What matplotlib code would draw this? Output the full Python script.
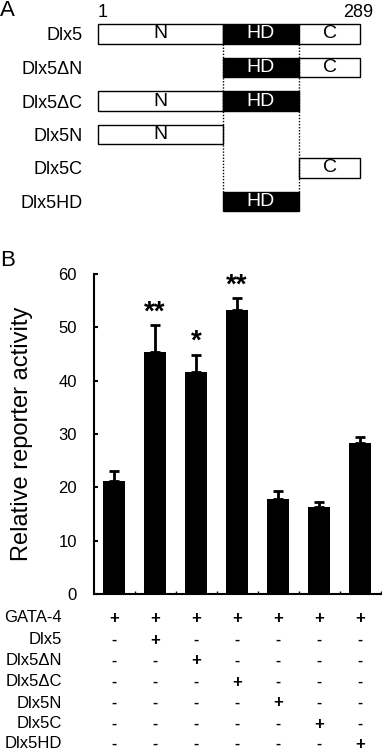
import matplotlib
matplotlib.use("Agg")
import matplotlib.pyplot as plt
from matplotlib.patches import Rectangle
import matplotlib.transforms as mtransforms

plt.rcParams["font.family"] = ["Liberation Sans", "DejaVu Sans"]

# --- data -------------------------------------------------------------
protein_len = 289
domains = [("N", 1, 138, "white"), ("HD", 138, 222, "black"), ("C", 222, 289, "white")]
constructs = ["Dlx5", "Dlx5\u0394N", "Dlx5\u0394C", "Dlx5N", "Dlx5C", "Dlx5HD"]
construct_domains = [["N", "HD", "C"], ["HD", "C"], ["N", "HD"], ["N"], ["C"], ["HD"]]

activity = [21.2, 45.4, 41.7, 53.3, 17.8, 16.3, 28.4]
activity_err = [1.9, 5.0, 3.2, 2.2, 1.6, 0.9, 1.1]
signif = ["", "**", "*", "**", "", "", ""]
table_rows = ["GATA-4"] + constructs
# which construct each bar got (None = GATA-4 alone)
bar_construct = [None, 0, 1, 2, 3, 4, 5]

W, H = 382, 750
fig = plt.figure(figsize=(W / 100, H / 100), dpi=100)

def fx(px):
    return px / W

def fy(py):
    return 1 - py / H

# --- panel A: construct schematic ------------------------------------
axa = fig.add_axes([fx(98), fy(218.25), fx(360) - fx(98), fy(17.25) - fy(218.25)])
axa.set_xlim(1, protein_len)
axa.set_ylim(len(constructs) - 0.5, -0.5)
h = 0.58
dom = {d[0]: d for d in domains}
for i, parts in enumerate(construct_domains):
    for name in parts:
        _, s, e, col = dom[name]
        axa.add_patch(Rectangle((s, i - h / 2), e - s, h, facecolor=col,
                                edgecolor="black", lw=1, clip_on=False))
        axa.text((s + e) / 2, i, name, ha="center", va="center", fontsize=14,
                 color="white" if col == "black" else "black")
for xb in (dom["HD"][1], dom["HD"][2]):
    axa.vlines(xb, h / 2, len(constructs) - 1 - h / 2, colors="black",
               linestyles=(0, (1, 1.2)), lw=1)
axa.text(1, -h / 2 - 0.1, "1", ha="left", va="bottom", fontsize=13)
axa.text(protein_len - 2, -h / 2 - 0.1, str(protein_len), ha="center",
         va="bottom", fontsize=13)
axa.set_yticks(range(len(constructs)))
axa.set_yticklabels(constructs, fontsize=13)
axa.tick_params(axis="y", length=0, pad=11)
axa.set_xticks([])
for sp in axa.spines.values():
    sp.set_visible(False)
fig.text(fx(0), fy(11), "A", fontsize=16, ha="left", va="center")

# --- panel B: reporter activity --------------------------------------
axb = fig.add_axes([fx(93.5), fy(594), fx(380.5) - fx(93.5), fy(274) - fy(594)])
xs = list(range(len(activity)))
axb.bar(xs, activity, width=0.56, color="black", zorder=2)
axb.errorbar(xs, activity, yerr=[[0] * len(xs), activity_err], fmt="none",
             ecolor="black", elinewidth=2, capsize=3.5, capthick=2, zorder=1)
for x, v, e, s in zip(xs, activity, activity_err, signif):
    if s:
        axb.annotate(s, (x, v + e), xytext=(0, 9), textcoords="offset points",
                     ha="center", va="center", fontsize=20, fontweight="bold")
axb.set_xlim(-0.5, len(xs) - 0.5)
axb.set_ylim(0, 60)
axb.set_yticks(range(0, 61, 10))
axb.tick_params(axis="y", direction="in", length=3, width=1.5, labelsize=12, pad=12)
axb.set_xticks([x + 0.5 for x in xs])
axb.set_xticklabels([])
axb.tick_params(axis="x", direction="in", length=2, width=1)
axb.spines["top"].set_visible(False)
axb.spines["right"].set_visible(False)
axb.spines["left"].set_linewidth(1.5)
axb.spines["bottom"].set_linewidth(1.5)
axb.set_ylabel("Relative reporter activity", fontsize=17)
axb.yaxis.set_label_coords(-(93.5 - 33) / 287, 0.5)
fig.text(fx(0), fy(261), "B", fontsize=16, ha="left", va="center")

# --- treatment table --------------------------------------------------
row_y = [618, 640, 660.5, 682, 703, 724, 744]
tr = mtransforms.blended_transform_factory(axb.transData, fig.transFigure)
for r, (lab, py) in enumerate(zip(table_rows, row_y)):
    fig.text(fx(62), fy(py), lab, ha="right", va="center", fontsize=12)
    for x, c in zip(xs, bar_construct):
        on = (r == 0) or (c == r - 1)
        axb.text(x, fy(py), "+" if on else "-", transform=tr, ha="center",
                 va="center", fontsize=12 if on else 11, fontweight="bold")

fig.savefig("out.png", dpi=100)
